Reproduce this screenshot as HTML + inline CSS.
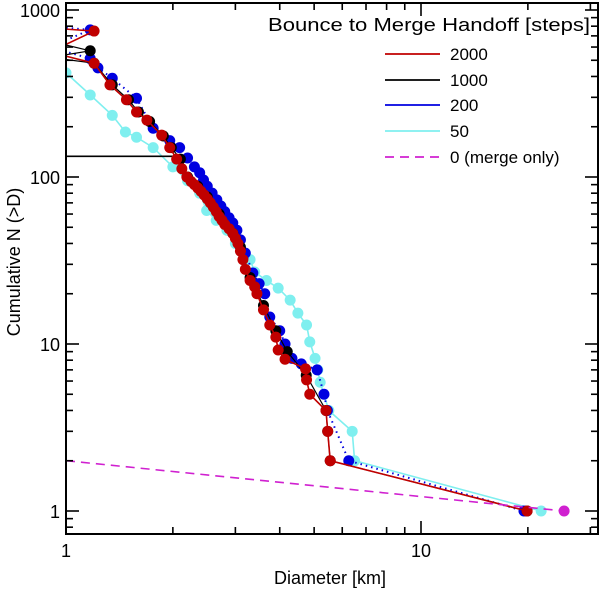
<!DOCTYPE html>
<html><head><meta charset="utf-8"><style>
body{margin:0;background:#fff}
svg{display:block}
text{font-family:"Liberation Sans",sans-serif;fill:#000}
</style></head><body>
<svg id="chart" width="600" height="590" xmlns="http://www.w3.org/2000/svg"></svg>
<script>
const redD=[0.9,1.2,0.9,1.2,1.33,1.48,1.58,1.69,1.86,1.96,2.05,2.12,2.19,2.25,2.3,2.35,2.4,2.45,2.5,2.55,2.6,2.65,2.7,2.75,2.8,2.88,2.95,3.0,3.05,3.1,3.15,3.2,3.3,3.4,3.45,3.6,3.75,3.9,3.96,4.14,4.73,4.76,4.86,5.4,5.46,5.55,19.9];
const redN=[780,748,560,480,356,290,245,219,178,150,128,112,100,94,90,86,82,78,74,70,66,62,58,55,52,49,46,43,40,36,32,28,24,22,20,16,13,11,9.2,8.1,7.1,6.1,5.0,4.0,3.0,2.0,1.0];
const blackD=[0.9,1.17,0.9,1.2,1.35,1.5,1.6,1.72,1.88,1.98,2.1,2.2,2.35,2.5,2.7,2.95,3.1,3.3,3.6,3.9,4.2,4.75,5.4,5.46,5.55,19.9];
const blackN=[650,570,520,480,356,290,245,215,176,150,128,100,88,76,60,46,38,25,17,12,9,6.5,4,3,2,1.0];
const blackFlatD=[0.9,2.0];
const blackFlatN=[133,133];
const blueD=[0.9,1.17,0.9,1.17,1.23,1.35,1.58,1.76,1.96,2.09,2.2,2.3,2.38,2.44,2.5,2.58,2.66,2.73,2.8,2.88,2.95,3.03,3.1,3.2,3.36,3.5,3.63,3.75,4.0,4.14,4.33,4.6,5.1,5.33,5.45,6.26,19.5];
const blueN=[800,760,600,512,450,390,296,196,165,150,130,115,106,96,88,80,73,67,62,57,53,48,42,35,26.6,23,20,14.5,12,10,8.2,7.6,7,5,4,2,1];
const cyanD=[1.0,1.17,1.35,1.47,1.58,1.76,2.0,2.2,2.38,2.49,2.65,2.84,3.0,3.3,3.4,3.67,3.96,4.28,4.5,4.76,4.86,5.03,5.12,5.2,5.5,6.4,6.5,21.8];
const cyanN=[420,310,234,186,173,150,115,95,80,63,55,48,40,32,27,24,21.6,18.3,15.3,13,10.3,8.2,7,5.9,4,3,2,1];
const mergeD=[1.0,25.3];
const mergeN=[2,1];
const yMajor=[1,10,100,1000];
const yMajorLabels=["1","10","100","1000"];
const xMajor=[1,10];
const xMajorLabels=["1","10"];

const L=66,R=598,T=3,B=534;
const X=d=>L+355*Math.log10(d);
const Y=n=>511-167*Math.log10(n);
const svg=document.getElementById('chart');
const NS="http://www.w3.org/2000/svg";
function mk(tag,attrs,parent){const e=document.createElementNS(NS,tag);for(const k in attrs)e.setAttribute(k,attrs[k]);(parent||svg).appendChild(e);return e;}

const defs=mk('defs',{});
const cp=mk('clipPath',{id:'clip'},defs);
mk('rect',{x:L,y:T,width:R-L,height:B-T},cp);
const plot=mk('g',{'clip-path':'url(#clip)'});



function series(D,N,color,name,dash,markers,sw){
  const g=mk('g',{},plot);
  
  
  const pts=D.map((d,i)=>X(d).toFixed(1)+','+Y(N[i]).toFixed(1)).join(' ');
  const a={points:pts,fill:'none',stroke:color,'stroke-width':sw||1.6};
  if(dash)a['stroke-dasharray']=dash;
  mk('polyline',a,g);
  if(markers)D.forEach((d,i)=>{const c=mk('circle',{cx:X(d),cy:Y(N[i]),r:5.5,fill:color},g);
    
    });
}
series(cyanD,cyanN,'#7fefef','series-50',null,true);
series(blueD,blueN,'#0000e0','series-200','1.5,4',true,2);
series(blackD,blackN,'#000','series-1000',null,true,1.2);
series(blackFlatD,blackFlatN,'#000','series-1000-flat',null,false,1.6);
series(redD,redN,'#c00000','series-2000',null,true,1.6);
series(mergeD,mergeN,'#d020d0','series-0-merge','9,6',false,1.6);
{const c=mk('circle',{cx:X(25.3),cy:Y(1),r:5.5,fill:'#d020d0'},plot);

}

const frame=mk('rect',{x:L,y:T,width:R-L,height:B-T,fill:'none',stroke:'#000','stroke-width':2});



const ax=mk('g',{stroke:'#000','stroke-width':1.6});


for(let e=-1;e<=3;e++)for(let m=1;m<=9;m++){const v=m*Math.pow(10,e);const y=Y(v);if(y<T||y>B)continue;const len=m===1?13:7;
  mk('line',{x1:L,x2:L+len,y1:y,y2:y},ax);mk('line',{x1:R,x2:R-len,y1:y,y2:y},ax);}
for(let e=0;e<=1;e++)for(let m=1;m<=9;m++){const v=m*Math.pow(10,e);const x=X(v);if(x<L||x>R)continue;const len=m===1?13:7;
  mk('line',{x1:x,x2:x,y1:B,y2:B-len},ax);mk('line',{x1:x,x2:x,y1:T,y2:T+len},ax);}
yMajor.forEach((v,i)=>{const t=mk('text',{x:L-6,y:Y(v)+7,'text-anchor':'end','font-size':18});t.textContent=yMajorLabels[i];
  });
xMajor.forEach((v,i)=>{const t=mk('text',{x:X(v),y:557,'text-anchor':'middle','font-size':18});t.textContent=xMajorLabels[i];
  });
const xt=mk('text',{x:330,y:584,'text-anchor':'middle','font-size':18});xt.textContent='Diameter [km]';

const yt=mk('text',{x:0,y:0,'text-anchor':'middle','font-size':18,transform:'translate(20,262) rotate(-90)'});yt.textContent='Cumulative N (>D)';


const lg=mk('g',{});


const lt=mk('text',{x:268,y:31,'font-size':18,textLength:322,lengthAdjust:'spacingAndGlyphs'},lg);lt.textContent='Bounce to Merge Handoff [steps]';

const ent=[['2000','#c00000',null,54],['1000','#000',null,80],['200','#0000e0',null,105],['50','#7fefef',null,131],['0 (merge only)','#d020d0','9,6',157]];
ent.forEach(e=>{const g=mk('g',{},lg);
  const a={x1:385,x2:440,y1:e[3],y2:e[3],stroke:e[1],'stroke-width':1.8};if(e[2])a['stroke-dasharray']=e[2];mk('line',a,g);
  const t=mk('text',{x:450,y:e[3]+6,'font-size':17},g);t.textContent=e[0];});
</script>
</body></html>
